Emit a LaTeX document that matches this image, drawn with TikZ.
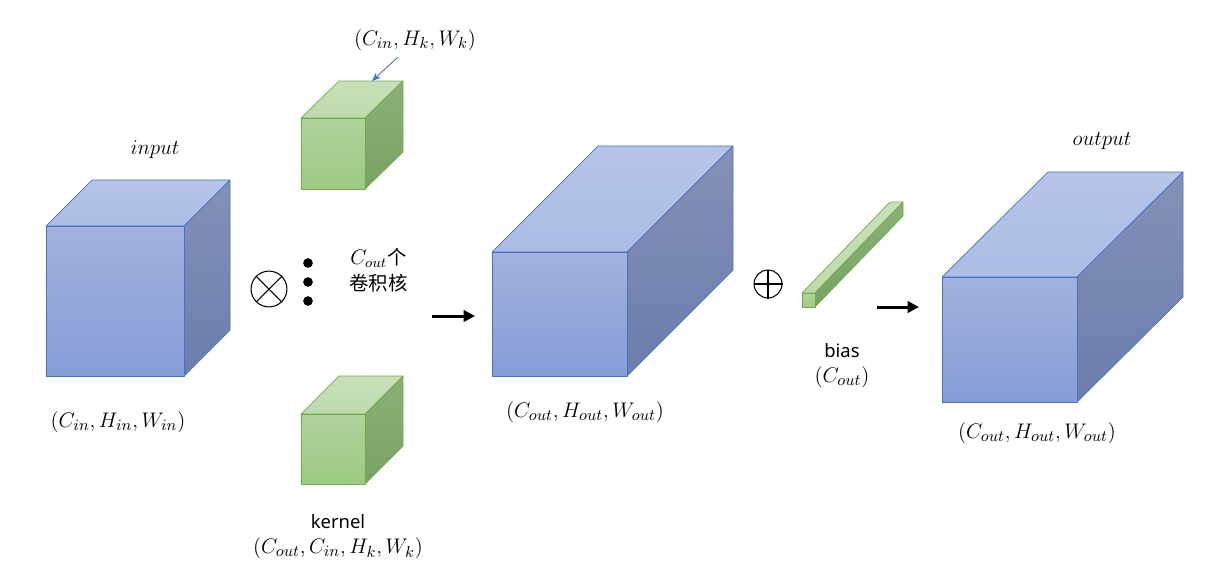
\documentclass[tikz,border=0pt]{standalone}
\usepackage{fontspec}
\setsansfont{Noto Sans}
\newfontfamily\cjk{Noto Sans CJK SC}
\usetikzlibrary{arrows.meta}
\definecolor{bedge}{HTML}{4472C4}
\definecolor{bfront1}{RGB}{163,177,221}
\definecolor{bfront2}{RGB}{133,157,215}
\definecolor{btop1}{RGB}{182,196,232}
\definecolor{btop2}{RGB}{172,188,228}
\definecolor{bside1}{RGB}{132,145,184}
\definecolor{bside2}{RGB}{108,125,172}
\definecolor{gedge}{HTML}{70AD47}
\definecolor{gfront1}{RGB}{176,210,158}
\definecolor{gfront2}{RGB}{158,202,130}
\definecolor{gtop1}{RGB}{200,224,186}
\definecolor{gtop2}{RGB}{190,218,172}
\definecolor{gside1}{RGB}{140,176,120}
\definecolor{gside2}{RGB}{122,162,100}
\newcommand\boxthreed[7]{%
 \shadedraw[top color=#7top1, bottom color=#7top2, draw=#7edge, line join=round] (#1,#2) -- ++(#5,-#6) -- ++(#3,0) -- ++(-#5,#6) -- cycle;
 \shadedraw[top color=#7side1, bottom color=#7side2, draw=#7edge, line join=round] (#1+#3,#2) -- ++(#5,-#6) -- ++(0,#4) -- ++(-#5,#6) -- cycle;
 \shadedraw[top color=#7front1, bottom color=#7front2, draw=#7edge, line join=round] (#1,#2) rectangle ++(#3,#4);
}
\tikzset{
  mathlbl/.style={inner sep=0pt, font=\fontsize{12.5}{14}\selectfont},
  sanslbl/.style={inner sep=0pt, font=\sffamily\fontsize{10.5}{13}\selectfont},
  flowarrow/.style={-{Triangle[length=6.5pt,width=6.5pt]}, line width=1.7pt, black},
  pointer/.style={-{Stealth[length=5pt,width=4pt]}, draw=bedge, line width=0.5pt},
  opsym/.style={circle, draw=black, line width=0.6pt, inner sep=0pt},
  dotmark/.style={circle, fill=black, inner sep=0pt, minimum size=5.5pt}
}
\begin{document}
\begin{tikzpicture}[x=0.02cm, y=-0.02cm]
\useasboundingbox (0,0) rectangle (1224,576);
% cubes
\boxthreed{46}{226}{138}{150}{46}{46}{b}
\boxthreed{301}{118}{64}{71}{38}{37}{g}
\boxthreed{301}{414}{64}{70}{38}{38}{g}
\boxthreed{492}{252}{135}{124}{106}{106}{b}
\boxthreed{942}{277}{135}{125}{106}{105}{b}
\boxthreed{802}{293}{13}{14}{88}{91}{g}
% operators
\node[opsym, minimum size=20.4pt] (otimes) at (269,289) {};
\draw[line width=0.6pt] (otimes.north west) -- (otimes.south east) (otimes.north east) -- (otimes.south west);
\node[opsym, minimum size=15.9pt] (oplus) at (768,284) {};
\draw[line width=0.6pt] (oplus.north) -- (oplus.south) (oplus.east) -- (oplus.west);
\node[dotmark] (d1) at (308,263) {};
\node[dotmark] (d2) at (308,282) {};
\node[dotmark] (d3) at (308,301) {};
% labels
\node[mathlbl] (lin) at (155,150) {$input$};
\node[mathlbl] (lindim) at (118,422) {$(C_{in},H_{in},W_{in})$};
\node[mathlbl] (lkdim) at (415,40) {$(C_{in},H_k,W_k)$};
\coordinate (ktop) at (372,81);
\node[inner sep=0pt, font=\fontsize{12}{14}\selectfont, anchor=west] (lcount) at (350,258) {$C_{out}${\cjk\fontsize{11}{13}\selectfont 个}};
\node[inner sep=0pt, font=\cjk\fontsize{11}{13}\selectfont, anchor=west] (lcount2) at (349,283) {卷积核};
\node[sanslbl] (lkern) at (338,522) {kernel};
\node[mathlbl] (lkernd) at (338,548) {$(C_{out},C_{in},H_k,W_k)$};
\node[mathlbl] (lmid) at (585,412) {$(C_{out},H_{out},W_{out})$};
\node[sanslbl] (lbias) at (842,351) {bias};
\node[mathlbl] (lbiasd) at (842,377) {$(C_{out})$};
\node[mathlbl] (lout) at (1102,141) {$output$};
\node[mathlbl] (loutd) at (1037,433) {$(C_{out},H_{out},W_{out})$};
% arrows
\coordinate (a1s) at (432,316); \coordinate (a1e) at (475,316);
\coordinate (a2s) at (877,307); \coordinate (a2e) at (919,307);
\draw[flowarrow] (a1s) -- (a1e);
\draw[flowarrow] (a2s) -- (a2e);
\coordinate (pstart) at (398,57);
\draw[pointer] (pstart) -- (ktop);
\end{tikzpicture}
\end{document}
